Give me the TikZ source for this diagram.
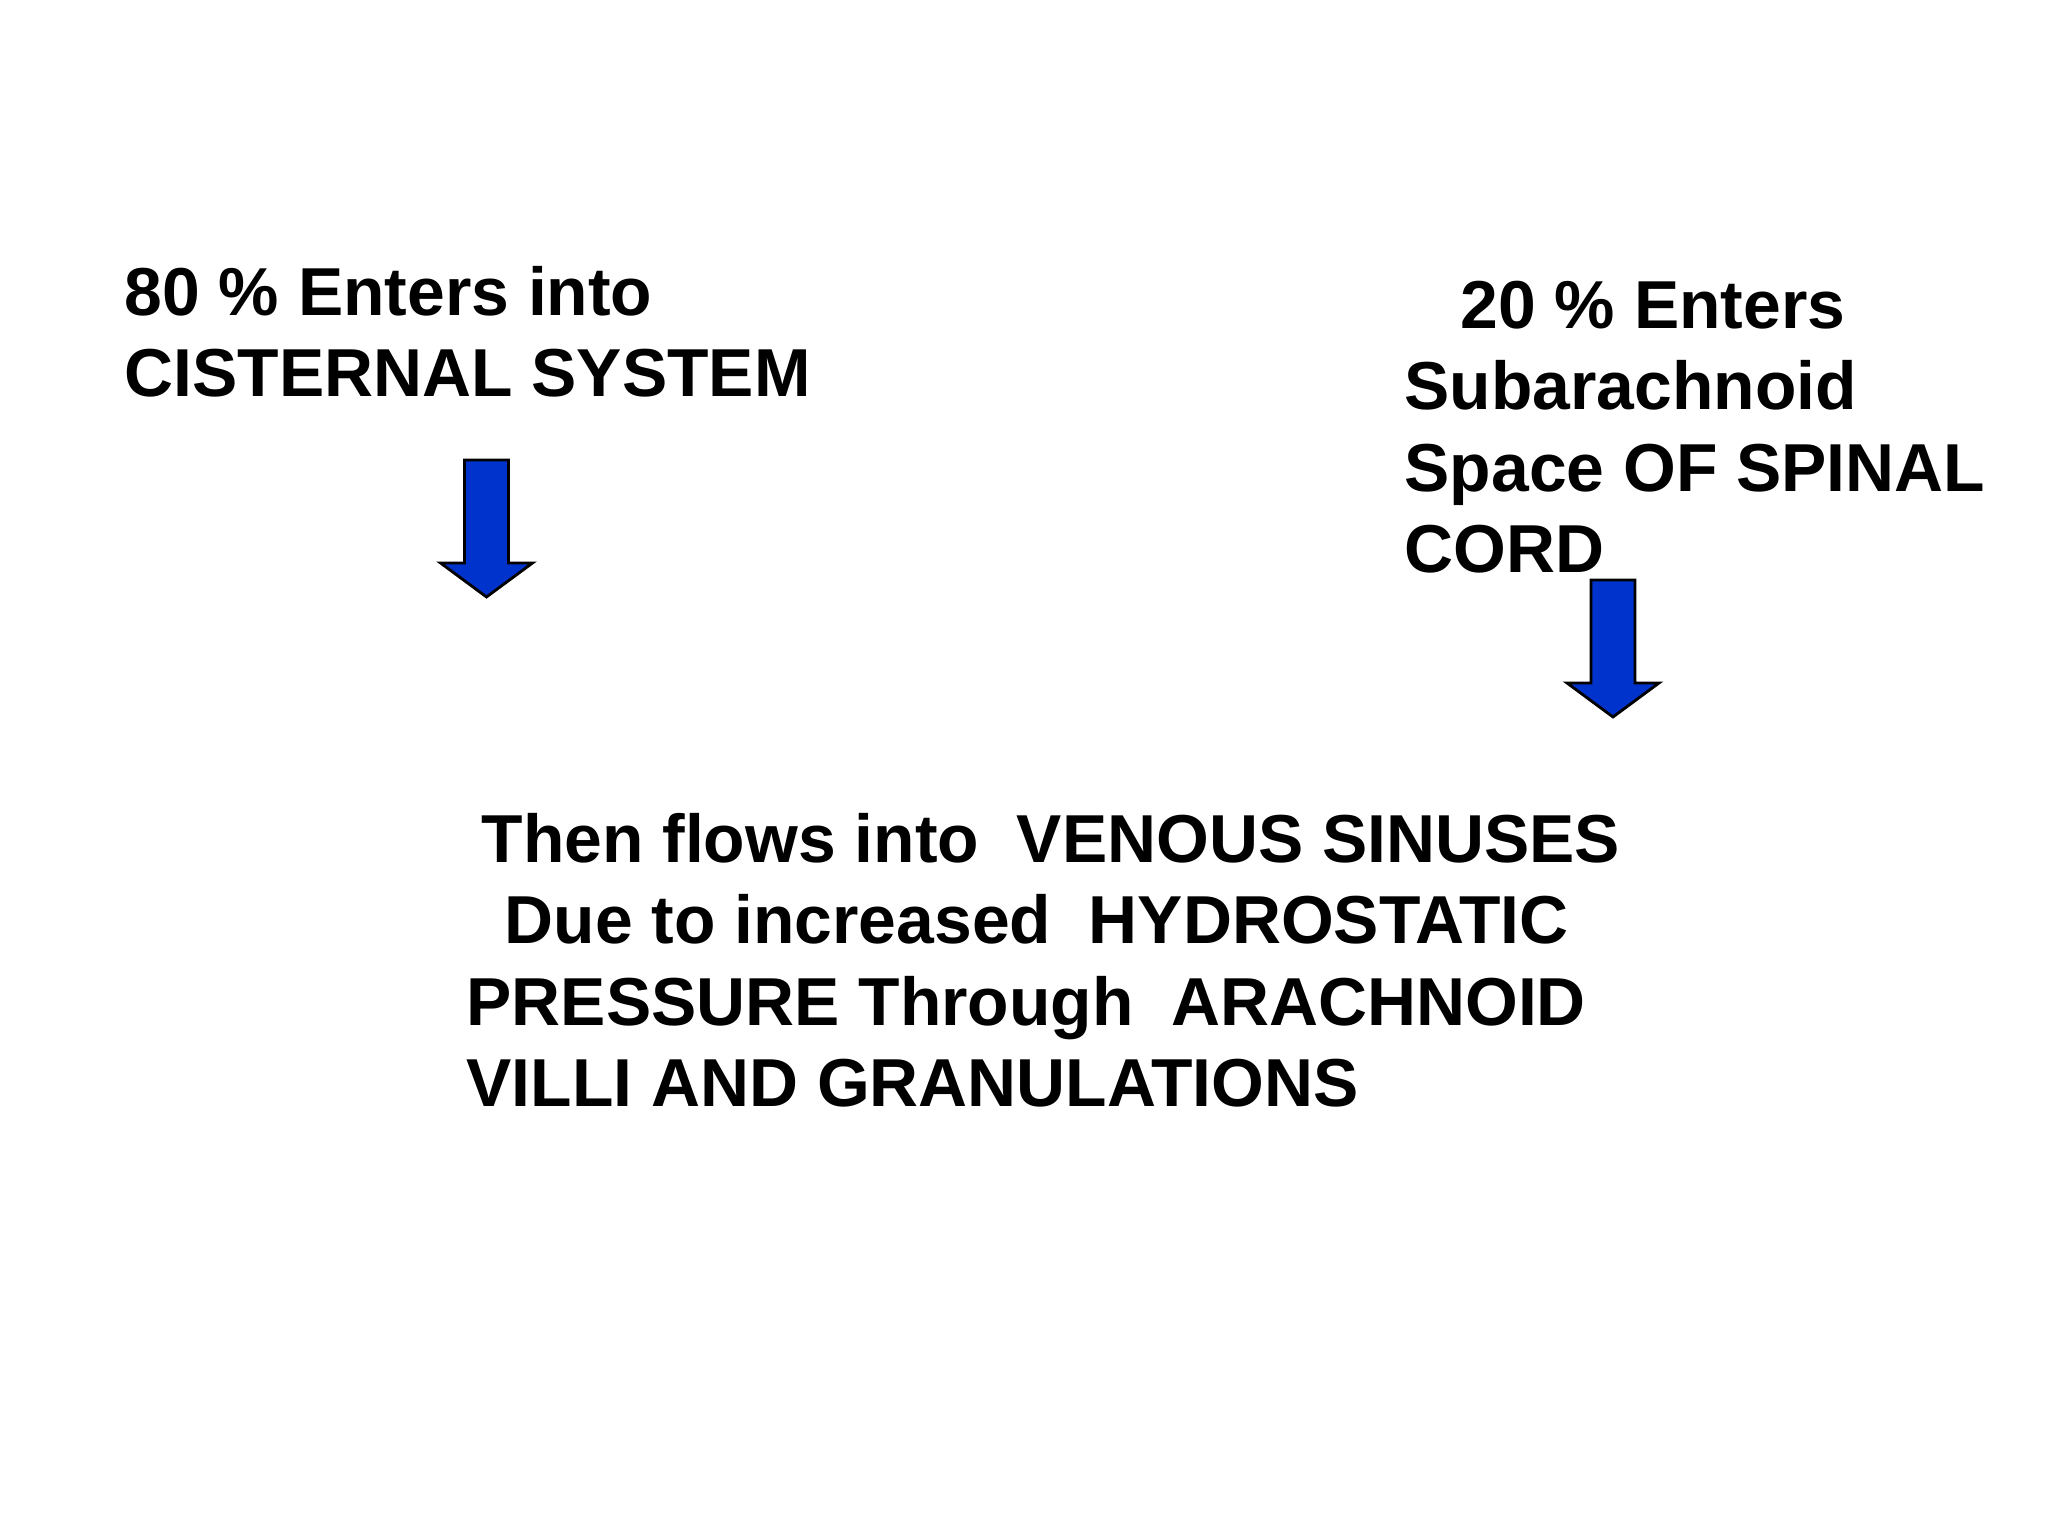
\documentclass[tikz,border=0pt]{standalone}
\usepackage{fontspec}
\setmainfont{Liberation Sans}
\usepackage{xcolor}
\usepackage{tikz}
\usetikzlibrary{positioning,calc}

\definecolor{arrowblue}{RGB}{0,51,204}

\begin{document}
\begin{tikzpicture}[
  txt/.style={inner sep=0pt, anchor=base west, align=left,
              font=\fontsize{19.3}{23.2}\selectfont\bfseries},
  flowarrow/.style={draw=black, line width=0.8pt, fill=arrowblue, line join=miter},
  downarrow/.pic={
    \draw[flowarrow] (-0.22,0) -- (0.22,0) -- (0.22,-1.03) -- (0.46,-1.03)
      -- (0,-1.37) -- (-0.46,-1.03) -- (-0.22,-1.03) -- cycle;
  }
]
\useasboundingbox (0,0) rectangle (20.48,15.36);

\node[txt] (cistern) at (1.24,11.39) {80 \% Enters into\\CISTERNAL SYSTEM};
\node[txt] (spinal) at (14.04,9.63) {\hspace*{0.56cm}20 \% Enters\\Subarachnoid\\Space OF SPINAL\\CORD};
\node[txt] (venous) at (4.66,4.29) {\hspace*{0.15cm}Then flows into\ \ VENOUS SINUSES\\\hspace*{0.38cm}Due to increased\ \ HYDROSTATIC\\PRESSURE Through\ \ ARACHNOID\\VILLI AND GRANULATIONS};

% block arrows
\pic at (4.865,10.76) {downarrow};
\pic at (16.13,9.56) {downarrow};

\end{tikzpicture}
\end{document}
